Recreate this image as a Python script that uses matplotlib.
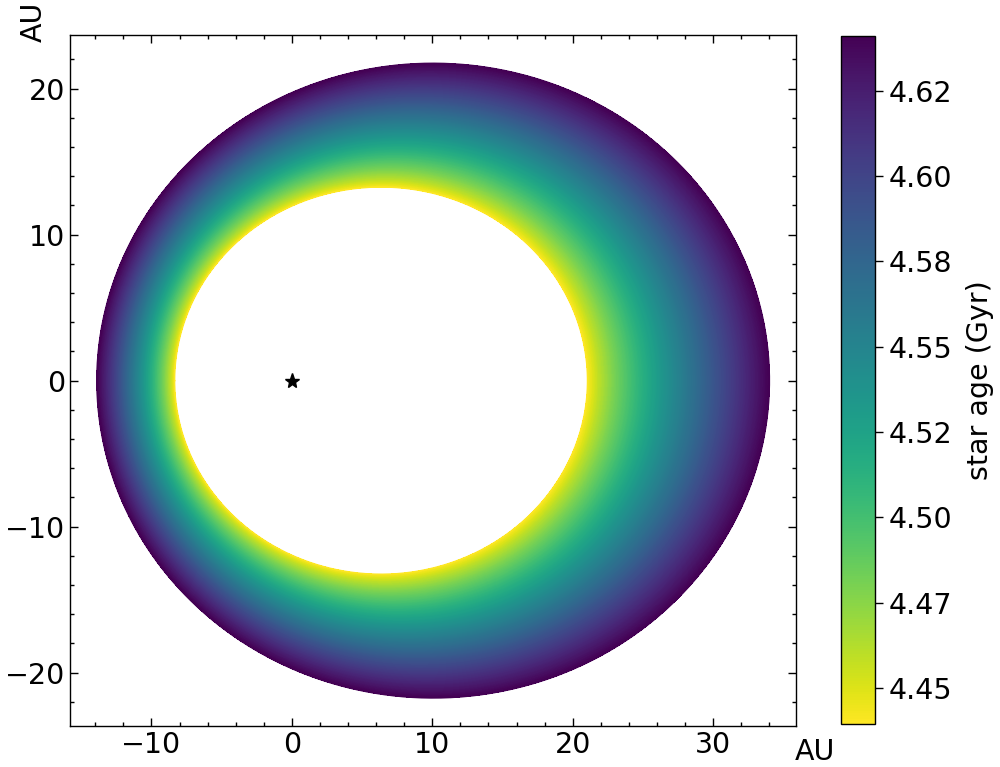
import numpy as np
import matplotlib
matplotlib.use('Agg')
import matplotlib.pyplot as plt
from matplotlib.colors import Normalize
from matplotlib.cm import ScalarMappable
from matplotlib.ticker import MultipleLocator

# ── orbit track (star at the focus) ──────────────────────────────────
star_age = [4.4395, 4.46, 4.48, 4.51, 4.54, 4.59, 4.641]     # Gyr
semi_a   = [14.70, 15.30, 16.05, 17.33, 18.71, 21.22, 23.95]  # AU
ecc      = [0.432, 0.431, 0.430, 0.428, 0.426, 0.423, 0.420]

age_min, age_max = 4.4395, 4.641
cbar_ticks  = [4.45, 4.475, 4.50, 4.525, 4.55, 4.575, 4.60, 4.625]
cbar_labels = ['4.45', '4.47', '4.50', '4.52', '4.55', '4.58', '4.60', '4.62']

FS = 20.5

fig = plt.figure(figsize=(10, 7.67), dpi=100)
ax  = fig.add_axes([0.070, 0.0535, 0.726, 0.9005])
cax = fig.add_axes([0.841, 0.056, 0.034, 0.897])

# ellipses r(theta) around the focus, one row per model point
theta = np.linspace(0, 2 * np.pi, 721)
a = np.array(semi_a)[:, None]
e = np.array(ecc)[:, None]
r = a * (1 - e**2) / (1 + e * np.cos(theta)[None, :])
X = -r * np.cos(theta)[None, :]
Y = r * np.sin(theta)[None, :]
Z = np.repeat(np.array(star_age)[:, None], theta.size, axis=1)

norm = Normalize(vmin=age_min, vmax=age_max)
cmap = plt.get_cmap('viridis_r')
levels = np.linspace(age_min, age_max, 300)
ax.contourf(X, Y, Z, levels=levels, cmap=cmap, norm=norm, antialiased=False)
# smooth the inner / outer edges
ax.plot(X[0], Y[0], color=cmap(norm(star_age[0])), lw=1.0)
ax.plot(X[-1], Y[-1], color=cmap(norm(star_age[-1])), lw=1.0)

ax.plot(0, 0, marker='*', color='k', markersize=11, linestyle='none')

ax.set_xlim(-15.8, 35.9)
ax.set_ylim(-23.65, 23.65)
ax.xaxis.set_major_locator(MultipleLocator(10))
ax.xaxis.set_minor_locator(MultipleLocator(2))
ax.yaxis.set_major_locator(MultipleLocator(10))
ax.yaxis.set_minor_locator(MultipleLocator(2))
ax.tick_params(which='both', direction='in', top=True, right=True,
               labelsize=FS, width=1.0)
ax.tick_params(which='major', length=6)
ax.tick_params(which='minor', length=3.2)
for sp in ax.spines.values():
    sp.set_linewidth(1.0)

ax.set_xlabel('AU', fontsize=FS)
ax.xaxis.set_label_coords(1.026, -0.018)
ax.set_ylabel('AU', fontsize=FS)
ax.yaxis.set_label_coords(-0.030, 1.02)

sm = ScalarMappable(norm=norm, cmap=cmap)
cb = fig.colorbar(sm, cax=cax)
cb.set_ticks(cbar_ticks)
cb.set_ticklabels(cbar_labels)
cb.ax.tick_params(labelsize=FS, length=6, width=1.0)
cb.outline.set_linewidth(1.0)
cb.set_label('star age (Gyr)', fontsize=FS, labelpad=10)

fig.savefig('out.png', dpi=100)
